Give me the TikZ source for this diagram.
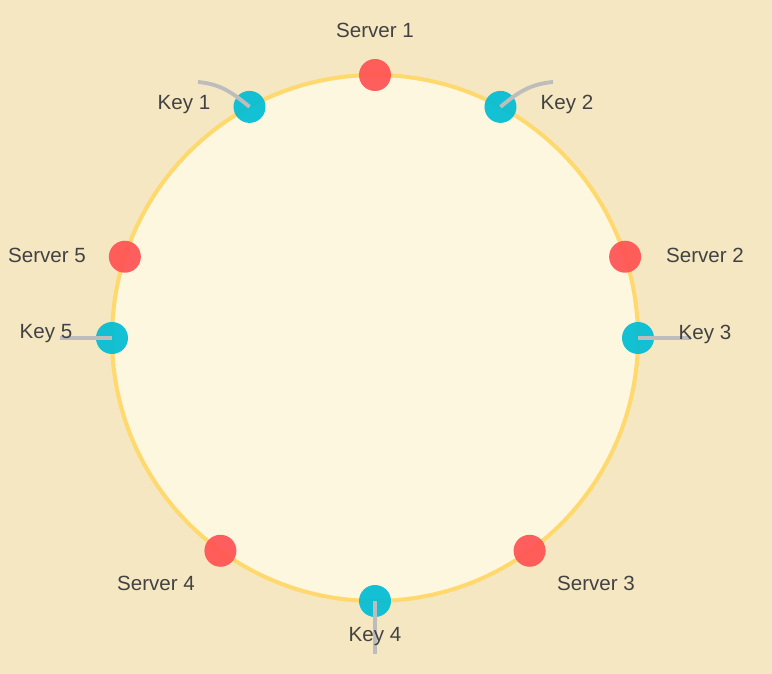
\documentclass[tikz,border=0pt]{standalone}
\usepackage{fontspec}
\setmainfont{Liberation Sans}
\definecolor{ringbg}{RGB}{245,231,194}
\definecolor{ringfill}{RGB}{254,247,223}
\definecolor{ringline}{RGB}{255,217,110}
\definecolor{srvred}{RGB}{255,82,82}
\definecolor{keycyan}{RGB}{0,188,212}
\definecolor{linkgray}{RGB}{189,189,189}
\definecolor{labelgray}{RGB}{66,66,66}
\usetikzlibrary{positioning}

\begin{document}
\begin{tikzpicture}[
  srv/.style={circle, fill=srvred, fill opacity=0.92, minimum size=0.64cm, inner sep=0pt},
  keydot/.style={circle, fill=keycyan, fill opacity=0.92, minimum size=0.64cm, inner sep=0pt},
  lbl/.style={font=\fontsize{11.7}{14}\selectfont, text=labelgray, inner sep=0pt},
  link/.style={draw=linkgray, line width=2.2pt}
]
% Background
\fill[ringbg] (-7.5,-6.72) rectangle (7.94,6.76);
\useasboundingbox (-7.5,-6.72) rectangle (7.94,6.76);

% Hash ring
\draw[ringline, line width=2.3pt, fill=ringfill] (0,0) circle (5.26);

% Server nodes
\node[srv] (s1) at (90:5.26)   {};
\node[srv] (s2) at (18:5.26)   {};
\node[srv] (s3) at (-54:5.26)  {};
\node[srv] (s4) at (-126:5.26) {};
\node[srv] (s5) at (162:5.26)  {};

% Key nodes
\node[keydot] (k1) at (118.5:5.26) {};
\node[keydot] (k2) at (61.5:5.26)  {};
\node[keydot] (k3) at (0:5.26)     {};
\node[keydot] (k4) at (270:5.26)   {};
\node[keydot] (k5) at (180:5.26)   {};

% Link ends
\coordinate (e1) at (-3.54,5.12);
\coordinate (e2) at (3.56,5.12);
\coordinate (e3) at (6.32,0);
\coordinate (e4) at (0,-6.32);
\coordinate (e5) at (-6.30,0);

% Links
\draw[link] (k1.center) to[out=140, in=-5] (e1);
\draw[link] (k2.center) to[out=40, in=185] (e2);
\draw[link] (k3.center) -- (e3);
\draw[link] (k4.center) -- (e4);
\draw[link] (k5.center) -- (e5);

% Labels
\node[lbl] (ls1) at (0,6.16)      {Server 1};
\node[lbl] (ls2) at (6.60,1.65)   {Server 2};
\node[lbl] (ls3) at (4.42,-4.91)  {Server 3};
\node[lbl] (ls4) at (-4.38,-4.91) {Server 4};
\node[lbl] (ls5) at (-6.56,1.65)  {Server 5};
\node[lbl] (lk1) at (-3.82,4.67)  {Key 1};
\node[lbl] (lk2) at (3.84,4.67)   {Key 2};
\node[lbl] (lk3) at (6.60,0.07)   {Key 3};
\node[lbl] (lk4) at (0,-5.97)     {Key 4};
\node[lbl] (lk5) at (-6.58,0.09)  {Key 5};
\end{tikzpicture}
\end{document}
